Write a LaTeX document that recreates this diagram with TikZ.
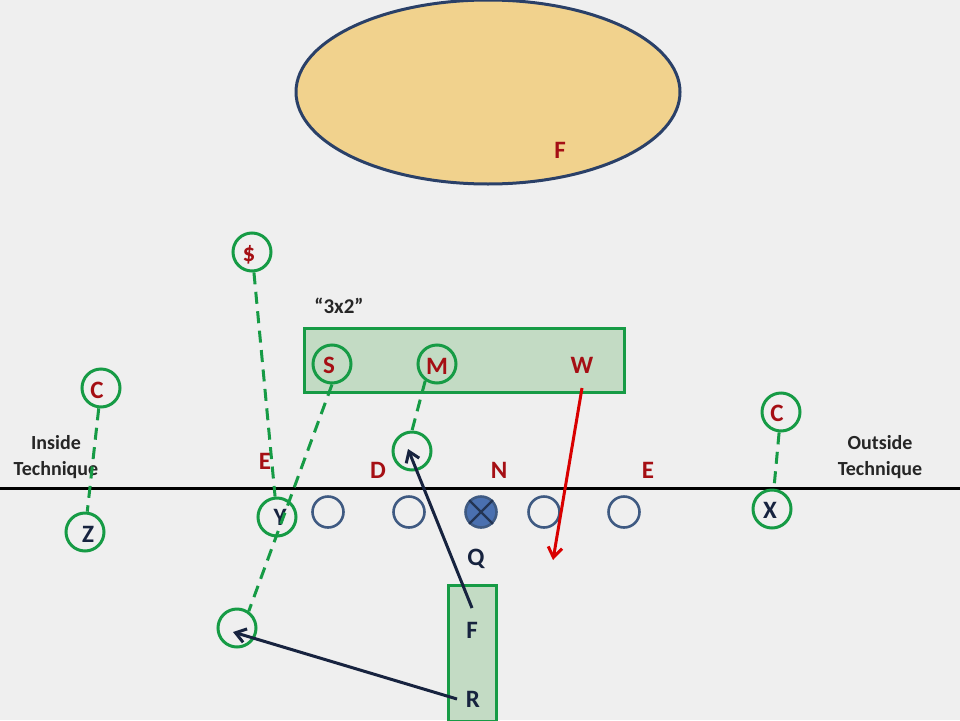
\documentclass[tikz,border=0pt]{standalone}
\usepackage{fontspec}
\setmainfont{Carlito}
\usetikzlibrary{arrows.meta}
\definecolor{bg}{HTML}{EFEFEF}
\definecolor{grn}{HTML}{169B45}
\definecolor{boxfill}{HTML}{C3DBC4}
\definecolor{sand}{HTML}{F1D28D}
\definecolor{navy}{HTML}{17233F}
\definecolor{dred}{HTML}{A50F14}
\definecolor{ringblue}{HTML}{3F5A82}
\definecolor{rimblue}{HTML}{2A4068}
\definecolor{xfill}{HTML}{4A70B0}
\tikzset{
 player/.style={circle,draw=grn,line width=3pt,minimum size=38pt,inner sep=0pt},
 lineman/.style={circle,draw=ringblue,line width=2.6pt,minimum size=31pt,inner sep=0pt},
 zone/.style={draw=grn,line width=3pt,fill=boxfill},
 lab/.style={font=\fontsize{25}{25}\selectfont\bfseries,text=dred,inner sep=0pt},
 offlab/.style={font=\fontsize{25}{25}\selectfont\bfseries,text=navy,inner sep=0pt},
 note/.style={font=\fontsize{20}{26}\selectfont\bfseries,align=center,text=black!85,inner sep=0pt},
 route/.style={grn,line width=3pt,dash pattern=on 12pt off 7.5pt},
 arrowline/.style={line width=3pt,-{Straight Barb[length=10pt,width=14pt,line width=3pt]}},
}
\begin{document}
\begin{tikzpicture}[x=1pt,y=-1pt]
\useasboundingbox (0,0) rectangle (960,720);
\fill[bg] (0,0) rectangle (960,720);
% areas
\draw[rimblue,line width=3pt,fill=sand] (488,92) ellipse [x radius=192,y radius=92];
\draw[zone] (304.5,328.5) rectangle (624.5,392);
\draw[zone] (448,585) rectangle (496.5,721);
% line of scrimmage
\draw[black,line width=3pt] (0,488.5) -- (960,488.5);
% players
\node[player] (dollar) at (252,252) {};
\node[player] (sam) at (332,364) {};
\node[player] (mike) at (437,364) {};
\node[player] (hole) at (412,451) {};
\node[player] (flat) at (237,628) {};
\node[player] (cl) at (101,388) {};
\node[player] (cr) at (781,412) {};
\node[player] (z) at (85,532) {};
\node[player] (y) at (277,517) {};
\node[player] (xr) at (772,509) {};
\node[lineman] (o1) at (328,512) {};
\node[lineman] (o2) at (409,512) {};
\node[circle,draw=ringblue,fill=xfill,line width=2.6pt,minimum size=31pt,inner sep=0pt] (ctr) at (481,512) {};
\node[lineman] (o4) at (544,512) {};
\node[lineman] (o5) at (624,512) {};
\draw[navy!70!ringblue,line width=2.2pt] (ctr.north west) -- (ctr.south east) (ctr.north east) -- (ctr.south west);
% labels
\node[lab] (dl) at (249,255) {\$};
\node[lab] (sl) at (329,365) {S};
\node[lab] (ml) at (437,366) {M};
\node[lab] (cll) at (97,390) {C};
\node[lab] (crl) at (777,413) {C};
\node[lab] (ff) at (560,150) {F};
\node[lab] (will) at (582,365) {W};
\node[lab] (le) at (265,461) {E};
\node[lab] (ld) at (378,470) {D};
\node[lab] (ln) at (499,470) {N};
\node[lab] (re) at (648,470) {E};
\node[offlab] (zl) at (88,534) {Z};
\node[offlab] (yy) at (280,517) {Y};
\node[offlab] (xl) at (770,510) {X};
\node[offlab] (qb) at (476,559) {Q};
\node[offlab] (fb) at (472,630) {F};
\node[offlab] (rb) at (473,699) {R};
\node[note] (ins) at (56,457) {Inside\\Technique};
\node[note] (out) at (880,457) {Outside\\Technique};
\node[font=\fontsize{21}{21}\selectfont\bfseries,text=black!85,inner sep=0pt] (tag) at (339,306) {“3x2”};
% routes
\draw[route] (dollar) -- (y);
\draw[route] (sam.south) -- (flat.55);
\draw[route] (mike.235) -- (hole.north);
\draw[route] (cl) -- (z);
\draw[route] (cr) -- (xr);
\coordinate (holetip) at (408,449);
\coordinate (flattip) at (233,632);
\coordinate (fstart) at (472,608);
\coordinate (rstart) at (457,699);
\coordinate (wstart) at (582,388);
\coordinate (wtip) at (553,560);
\draw[arrowline,navy] (fstart) -- (holetip);
\draw[arrowline,navy] (rstart) -- (flattip);
\draw[arrowline,red!85!black] (wstart) -- (wtip);
\end{tikzpicture}
\end{document}
